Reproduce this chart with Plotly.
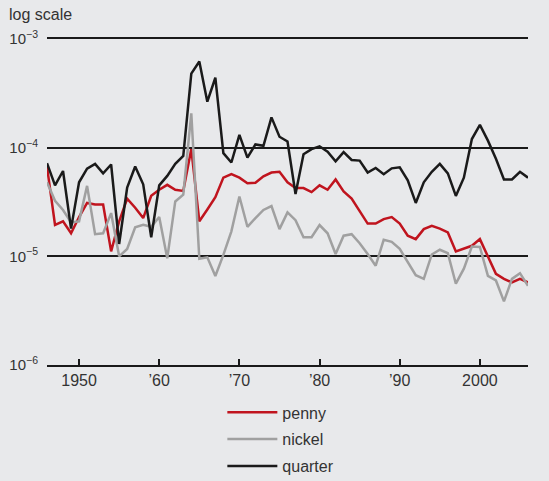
import plotly.graph_objects as go

years = list(range(1946, 2007))

penny = [6.7e-5, 1.95e-5, 2.1e-5, 1.63e-5, 2.3e-5, 3.1e-5, 3.0e-5, 3.0e-5, 1.11e-5, 2.1e-5,
         3.4e-5, 2.8e-5, 2.25e-5, 3.6e-5, 4.1e-5, 4.55e-5, 4.1e-5, 4.0e-5, 9.7e-5, 2.1e-5,
         2.7e-5, 3.5e-5, 5.3e-5, 5.7e-5, 5.3e-5, 4.7e-5, 4.75e-5, 5.45e-5, 5.9e-5, 6.0e-5,
         4.8e-5, 4.25e-5, 4.25e-5, 3.9e-5, 4.5e-5, 4.1e-5, 5.1e-5, 3.95e-5, 3.4e-5, 2.6e-5,
         2.0e-5, 2.0e-5, 2.2e-5, 2.3e-5, 2.0e-5, 1.55e-5, 1.44e-5, 1.78e-5, 1.91e-5, 1.8e-5,
         1.66e-5, 1.11e-5, 1.17e-5, 1.25e-5, 1.44e-5, 9.8e-6, 6.9e-6, 6.2e-6, 5.75e-6, 6.2e-6,
         5.75e-6]

nickel = [4.8e-5, 3.25e-5, 2.67e-5, 2.05e-5, 2.1e-5, 4.45e-5, 1.6e-5, 1.63e-5, 2.5e-5, 1.0e-5,
          1.17e-5, 1.85e-5, 1.95e-5, 1.87e-5, 2.3e-5, 9.6e-6, 3.2e-5, 3.7e-5, 2.07e-4, 9.5e-6,
          9.8e-6, 6.6e-6, 1.03e-5, 1.7e-5, 3.55e-5, 1.87e-5, 2.25e-5, 2.67e-5, 2.9e-5, 1.78e-5,
          2.54e-5, 2.15e-5, 1.5e-5, 1.5e-5, 1.94e-5, 1.63e-5, 1.05e-5, 1.55e-5, 1.6e-5, 1.32e-5,
          1.05e-5, 8.2e-6, 1.42e-5, 1.36e-5, 1.17e-5, 8.8e-6, 6.7e-6, 6.2e-6, 1.04e-5, 1.15e-5,
          1.07e-5, 5.6e-6, 7.7e-6, 1.23e-5, 1.22e-5, 6.6e-6, 6.0e-6, 3.85e-6, 6.2e-6, 7.0e-6,
          5.35e-6]

quarter = [7.2e-5, 4.5e-5, 6.1e-5, 1.8e-5, 4.8e-5, 6.4e-5, 7.1e-5, 5.8e-5, 7.0e-5, 1.3e-5,
           4.3e-5, 6.7e-5, 4.6e-5, 1.5e-5, 4.5e-5, 5.5e-5, 7.1e-5, 8.4e-5, 4.8e-4, 6.2e-4,
           2.65e-4, 4.4e-4, 8.9e-5, 7.3e-5, 1.31e-4, 8.1e-5, 1.07e-4, 1.04e-4, 1.9e-4, 1.26e-4,
           1.14e-4, 3.75e-5, 8.7e-5, 9.7e-5, 1.03e-4, 9.2e-5, 7.5e-5, 9.1e-5, 7.7e-5, 7.6e-5,
           5.9e-5, 6.5e-5, 5.7e-5, 6.45e-5, 6.6e-5, 5.0e-5, 3.1e-5, 4.8e-5, 6.0e-5, 7.1e-5,
           5.8e-5, 3.6e-5, 5.3e-5, 1.2e-4, 1.62e-4, 1.16e-4, 7.9e-5, 5.1e-5, 5.1e-5, 6.0e-5,
           5.3e-5]

x_tickvals = [1950, 1960, 1970, 1980, 1990, 2000]
x_ticktext = ["1950", "’60", "’70", "’80", "’90", "2000"]
y_tickvals = [1e-6, 1e-5, 1e-4, 1e-3]
y_ticktext = ["10<sup>−6</sup>", "10<sup>−5</sup>", "10<sup>−4</sup>", "10<sup>−3</sup>"]

bg = "#e8e9eb"
ink = "#1a1a1a"
txt = "#333333"

fig = go.Figure()
fig.add_trace(go.Scatter(x=years, y=penny, mode="lines", name="penny", legendgroup="p",
                         line=dict(color="#c0141e", width=2.5)))
fig.add_trace(go.Scatter(x=years, y=nickel, mode="lines", name="nickel", legendgroup="n",
                         line=dict(color="#a0a0a0", width=2.5)))
fig.add_trace(go.Scatter(x=years, y=quarter, mode="lines", name="quarter", legendgroup="q",
                         line=dict(color=ink, width=2.5)))

fig.update_layout(
    width=549, height=481,
    margin=dict(l=47, r=21, t=39, b=116, autoexpand=False),
    paper_bgcolor=bg, plot_bgcolor=bg,
    font=dict(family="Liberation Sans, Arial, sans-serif", size=16, color=txt),
    showlegend=True,
    legend=dict(xref="container", yref="container", x=0.405, y=0.178,
                xanchor="left", yanchor="top",
                bgcolor="rgba(0,0,0,0)", font=dict(size=16, color=txt),
                tracegroupgap=3, itemwidth=50),
    annotations=[dict(text="log scale", xref="paper", yref="paper", x=-0.083, y=1.074,
                      xanchor="left", yanchor="middle", showarrow=False,
                      font=dict(size=16, color=txt))],
)
fig.update_xaxes(range=[1946, 2006], tickvals=x_tickvals, ticktext=x_ticktext,
                 ticks="inside", ticklen=6, tickwidth=2, tickcolor=ink,
                 showgrid=False, zeroline=False,
                 showline=True, linecolor=ink, linewidth=2, mirror=True,
                 tickfont=dict(size=16, color=txt))
fig.update_yaxes(type="log", range=[-6, -3], tickvals=y_tickvals, ticktext=y_ticktext,
                 showgrid=True, gridcolor=ink, gridwidth=2, zeroline=False,
                 showline=False, ticks="", ticklabelstandoff=8,
                 tickfont=dict(size=15, color=txt))

fig.write_html("out.html", config={"displayModeBar": False},
               post_script="document.body.style.margin='0';document.body.style.background='%s';" % bg)
